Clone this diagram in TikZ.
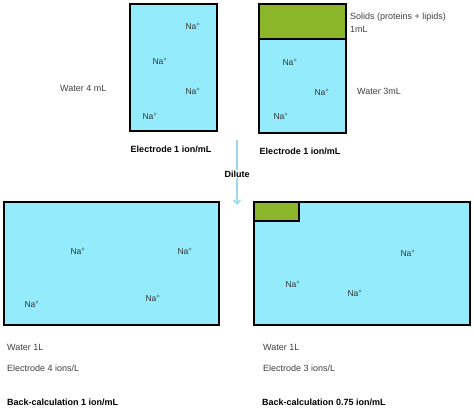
\documentclass[tikz,border=0pt]{standalone}
\usepackage{fontspec}
\setmainfont{Liberation Sans}
\usetikzlibrary{arrows.meta}
\definecolor{water}{HTML}{94EBFB}
\definecolor{solidgreen}{HTML}{8CB52A}
\definecolor{arrowblue}{HTML}{9ED8F0}

\begin{document}
\begin{tikzpicture}
[x=1pt,y=-1pt,>={Straight Barb[length=4pt,width=7pt]},
 ion/.style={font=\fontsize{8.5}{9}\selectfont,text=black!80,inner sep=0pt},
 txt/.style={font=\fontsize{9}{10}\selectfont,text=black!75,anchor=west,inner sep=0pt},
 bold/.style={font=\fontsize{9}{10}\selectfont\bfseries,inner sep=0pt},
 tank/.style={draw,line width=2pt,fill=water},
 solids/.style={draw,line width=2pt,fill=solidgreen},]

\useasboundingbox (0,0) rectangle (474,410);

% top left: water only
\draw[tank] (130,4) rectangle (217,131);
\node (A1) at (193,26)[ion]{Na\textsuperscript{+}};
\node (A2) at (160,61)[ion]{Na\textsuperscript{+}};
\node (A3) at (193,91)[ion]{Na\textsuperscript{+}};
\node (A4) at (150,116)[ion]{Na\textsuperscript{+}};
\node (wA) at (60,88)[txt]{Water 4 mL};
\node (eA) at (171,149)[bold]{Electrode 1 ion/mL};

% top right: solids + water
\draw[tank] (259,4) rectangle (346,133);
\draw[solids] (259,4) rectangle (346,39);
\node (B1) at (290,62)[ion]{Na\textsuperscript{+}};
\node (B2) at (322,92)[ion]{Na\textsuperscript{+}};
\node (B3) at (281,116)[ion]{Na\textsuperscript{+}};
\node (sB) at (350,17)[txt]{Solids (proteins + lipids)};
\node (sB2) at (350,29)[txt]{1mL};
\node (wB) at (357,91)[txt]{Water 3mL};
\node (eB) at (300,151)[bold]{Electrode 1 ion/mL};

% dilution arrow
\coordinate (top) at (237,140);
\coordinate (bot) at (237,205);
\draw[->,arrowblue,line width=1.5pt] (top) -- (bot);
\node (dil) at (237,174)[bold,fill=white,inner sep=1pt]{Dilute};

% bottom left: diluted water
\draw[tank] (4,202) rectangle (219,325);
\node (C1) at (78,251)[ion]{Na\textsuperscript{+}};
\node (C2) at (185,251)[ion]{Na\textsuperscript{+}};
\node (C3) at (153,298)[ion]{Na\textsuperscript{+}};
\node (C4) at (32,304)[ion]{Na\textsuperscript{+}};
\node (wC) at (7,347)[txt]{Water 1L};
\node (eC) at (7,368)[txt]{Electrode 4 ions/L};
\node (bC) at (7,402)[bold,anchor=west]{Back-calculation 1 ion/mL};

% bottom right: diluted with solids
\draw[tank] (254,202) rectangle (470,325);
\draw[solids] (254,202) rectangle (299,221);
\node (D1) at (408,253)[ion]{Na\textsuperscript{+}};
\node (D2) at (293,284)[ion]{Na\textsuperscript{+}};
\node (D3) at (355,293)[ion]{Na\textsuperscript{+}};
\node (wD) at (263,347)[txt]{Water 1L};
\node (eD) at (263,368)[txt]{Electrode 3 ions/L};
\node (bD) at (262,402)[bold,anchor=west]{Back-calculation 0.75 ion/mL};

\end{tikzpicture}
\end{document}
